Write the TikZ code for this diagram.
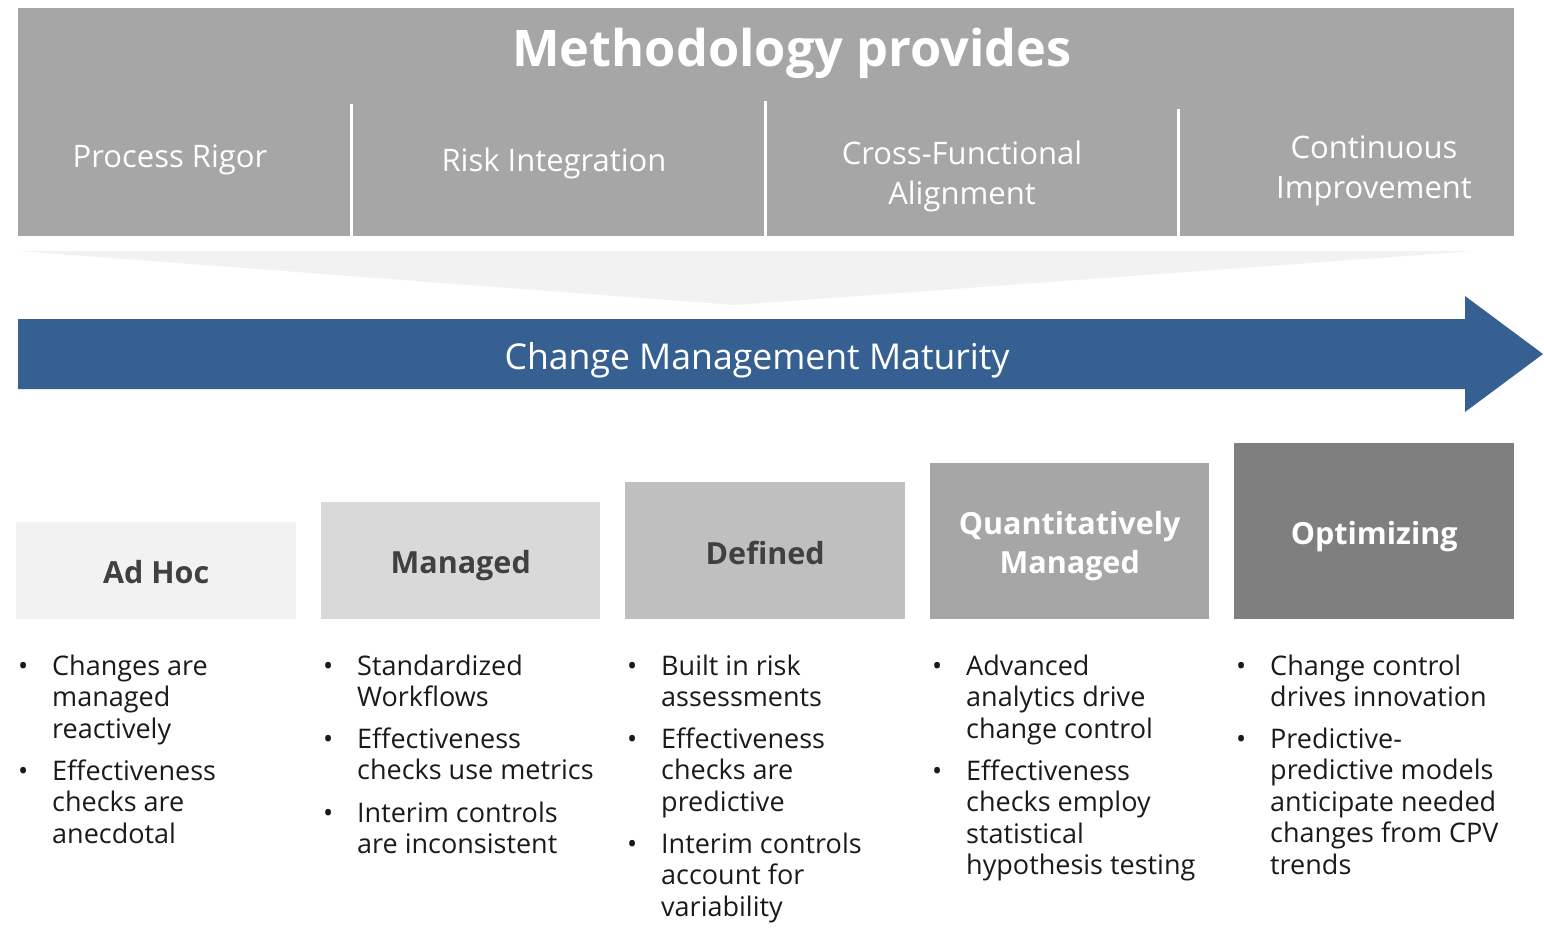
\documentclass[tikz,border=0pt]{standalone}
\usepackage{fontspec}
\setmainfont{Open Sans}
\definecolor{topgrey}{HTML}{A6A6A6}
\definecolor{chev}{HTML}{F2F2F2}
\definecolor{mblue}{HTML}{376092}
\definecolor{s1}{HTML}{F2F2F2}
\definecolor{s2}{HTML}{D9D9D9}
\definecolor{s3}{HTML}{BFBFBF}
\definecolor{s4}{HTML}{A6A6A6}
\definecolor{s5}{HTML}{7F7F7F}
\definecolor{darktxt}{HTML}{404040}
\definecolor{bodytxt}{HTML}{1A1A1A}
\tikzset{
  colhead/.style={text=white, align=center, inner sep=0pt, font=\fontsize{31}{40}\selectfont},
  divider/.style={draw=white, line width=3pt},
  stagebox/.style={draw=none, minimum width=280pt, anchor=south west, inner sep=0pt},
  stagelbl/.style={align=center, inner sep=0pt, font=\bfseries\fontsize{30.5}{39}\selectfont},
  bultext/.style={anchor=north west, align=left, inner sep=0pt, text=bodytxt, font=\fontsize{27}{31.5}\selectfont},
  bulmark/.style={anchor=north west, inner sep=0pt, text=bodytxt, font=\fontsize{27}{31.5}\selectfont},
}
\newcommand{\bitem}[4]{%
  \node[bulmark] (#1m) at (#2-34,#3+1) {\strut•};
  \node[bultext] (#1) at (#2,#3+1) {\strut #4};
}
\begin{document}
\begin{tikzpicture}[x=1pt,y=-1pt]
\useasboundingbox (0,0) rectangle (1544,940);
% top box
\node[fill=topgrey, minimum width=1496pt, minimum height=228pt, inner sep=0pt, anchor=north west] (top) at (18,8) {};
\node[text=white, font=\bfseries\fontsize{50.5}{60}\selectfont, inner sep=0pt] (title) at (792,53) {Methodology provides};
\draw[divider] (351,104) -- (351,236);
\draw[divider] (765,101) -- (765,236);
\draw[divider] (1178,109) -- (1178,236);
\node[colhead] (h1) at (170,160) {Process Rigor};
\node[colhead] (h2) at (554,163) {Risk Integration};
\node[colhead] (h3) at (962,176) {Cross-Functional\\Alignment};
\node[colhead] (h4) at (1374,171) {Continuous\\Improvement};
% chevron
\fill[chev] (18,251) -- (1474,251) -- (735,305) -- cycle;
% blue arrow
\fill[mblue] (18,319) -- (1465,319) -- (1465,296) -- (1543,354) -- (1465,412) -- (1465,389) -- (18,389) -- cycle;
\node[text=white, inner sep=0pt, font=\fontsize{35.6}{42}\selectfont] (mat) at (757,360) {Change Management Maturity};
% stage boxes
\node[stagebox, fill=s1, minimum height=97pt] (b1) at (16,619) {};
\node[stagebox, fill=s2, minimum height=117pt, minimum width=279pt] (b2) at (321,619) {};
\node[stagebox, fill=s3, minimum height=137pt] (b3) at (625,619) {};
\node[stagebox, fill=s4, minimum height=156pt, minimum width=279pt] (b4) at (930,619) {};
\node[stagebox, fill=s5, minimum height=176pt] (b5) at (1234,619) {};
\node[stagelbl, text=darktxt, yshift=-2pt] (l1) at (b1.center) {Ad Hoc};
\node[stagelbl, text=darktxt, yshift=-5pt] (l2) at (b2.center) {Managed};
\node[stagelbl, text=darktxt, yshift=-3pt] (l3) at (b3.center) {Defined};
\node[stagelbl, text=white, yshift=-5pt] (l4) at (b4.center) {Quantitatively\\Managed};
\node[stagelbl, text=white, yshift=-6pt] (l5) at (b5.center) {Optimizing};
% bullets
\bitem{a1}{52}{652}{Changes are\\managed\\reactively}
\bitem{a2}{52}{757}{Effectiveness\\checks are\\anecdotal}
\bitem{b1i}{357}{652}{Standardized\\Workflows}
\bitem{b2i}{357}{725}{Effectiveness\\checks use metrics}
\bitem{b3i}{357}{799}{Interim controls\\are inconsistent}
\bitem{c1}{661}{652}{Built in risk\\assessments}
\bitem{c2}{661}{725}{Effectiveness\\checks are\\predictive}
\bitem{c3}{661}{830}{Interim controls\\account for\\variability}
\bitem{d1}{966}{652}{Advanced\\analytics drive\\change control}
\bitem{d2}{966}{757}{Effectiveness\\checks employ\\statistical\\hypothesis testing}
\bitem{e1}{1270}{652}{Change control\\drives innovation}
\bitem{e2}{1270}{725}{Predictive-\\predictive models\\anticipate needed\\changes from CPV\\trends}
\end{tikzpicture}
\end{document}
